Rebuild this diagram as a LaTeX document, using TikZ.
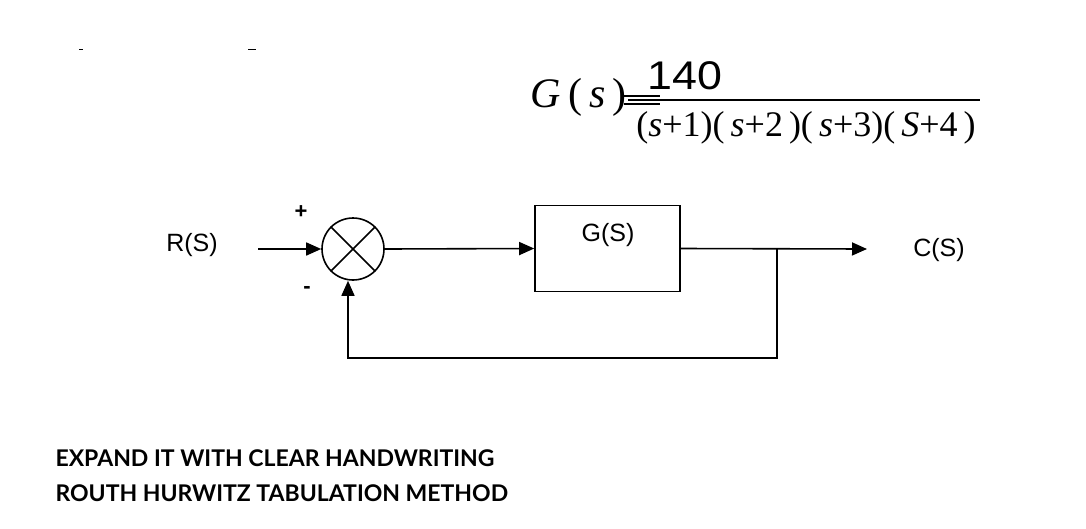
\documentclass[tikz,border=0pt]{standalone}
\usepackage{fontspec}
\setmainfont{Liberation Sans}
\newfontfamily\serifx{Liberation Serif}
\newfontfamily\latox{Lato}
\usetikzlibrary{arrows.meta}
\begin{document}
\begin{tikzpicture}[x=1pt,y=-1pt,
  lbl/.style={font=\fontsize{25}{28}\selectfont},
  ln/.style={line width=1.6pt},
  arr/.style={ln,-{Triangle[length=15pt,width=13pt]}},
  note/.style={font=\latox\bfseries\fontsize{23}{26}\selectfont,anchor=west}]
\useasboundingbox (0,0) rectangle (1086,528);
% small dashes
\draw[line width=1pt] (79,49) -- (83,49);
\draw[line width=1pt] (248,49) -- (256,49);
% formula
\node[font=\serifx\fontsize{42}{46}\selectfont,anchor=east] (gs) at (630,97) {\textit{G}\,(\,\textit{s}\,)};
\node[font=\fontsize{40}{44}\selectfont,xscale=1.12] (num) at (685,76) {140};
\node[font=\serifx\fontsize{36}{40}\selectfont] (den) at (806,128) {(\textit{s}+1)(\,\textit{s}+2\,)(\,\textit{s}+3)(\,\textit{S}+4\,)};
\draw[line width=1.8pt] (628,100) -- (980,100);
\draw[line width=1.2pt] (624,96) -- (660,96);
\draw[line width=1.2pt] (624,104) -- (660,104);
% diagram
\node[lbl] (r) at (192,245) {R(S)};
\coordinate (rin) at (258,249);
\node[draw,circle,ln,minimum size=62pt,inner sep=0pt] (sum) at (353,249) {};
\draw[ln] (sum.north east) -- (sum.south west) (sum.north west) -- (sum.south east);
\node[font=\bfseries\fontsize{22}{24}\selectfont] (plus) at (301,212) {+};
\node[font=\bfseries\fontsize{22}{24}\selectfont] (minus) at (307,290) {-};
\node[draw,ln,minimum width=145pt,minimum height=86pt,inner sep=0pt] (g) at (607.5,248.5) {};
\node[lbl] (gl) at (608,235) {G(S)};
\coordinate (out) at (867,249);
\coordinate (br) at (777,249);
\coordinate (bb) at (777,358);
\coordinate (fb) at (348,358);
\node[lbl] (c) at (939,250) {C(S)};
\draw[arr] (rin) -- (sum.west);
\draw[arr] (sum.east) -- (g.west);
\draw[arr] (g.east) -- (out);
\draw[arr] (br) -- (bb) -- (fb) -- (fb |- sum.south);
% notes
\node[note] (n1) at (52,458) {EXPAND IT WITH CLEAR HANDWRITING};
\node[note] (n2) at (52,493) {ROUTH HURWITZ TABULATION METHOD};
\end{tikzpicture}
\end{document}
